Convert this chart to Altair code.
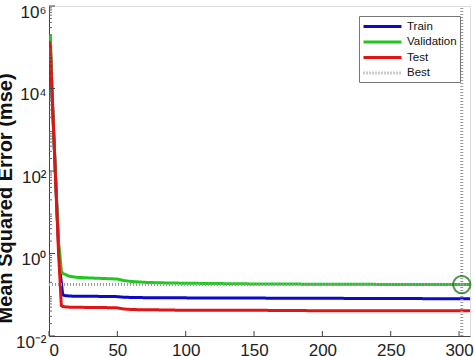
import altair as alt
import pandas as pd

# ---- data ----
epochs = [0, 1, 2, 3, 4, 5, 6, 7, 8, 9, 10, 12, 15, 20, 30, 40, 50, 55, 60, 70, 80, 100, 150, 200, 250, 302, 308]
train = [1.2e5, 9e4, 1.1e4, 1.8e3, 300, 50, 8, 1.6, 0.4, 0.2, 0.1,
         0.095, 0.093, 0.092, 0.092, 0.091, 0.09, 0.087, 0.086, 0.085, 0.085, 0.084, 0.083, 0.082, 0.081, 0.080, 0.080]
valid = [1.5e5, 2e5, 1.3e4, 2e3, 320, 55, 9, 1.8, 0.9, 0.38, 0.33,
         0.31, 0.28, 0.265, 0.255, 0.248, 0.24, 0.22, 0.21, 0.2, 0.195, 0.19, 0.183, 0.18, 0.178, 0.176, 0.176]
test = [1.4e5, 1e5, 1.2e4, 1.9e3, 290, 45, 7, 1.0, 0.25, 0.055, 0.052,
        0.051, 0.05, 0.05, 0.049, 0.049, 0.048, 0.045, 0.044, 0.043, 0.043, 0.042, 0.042, 0.041, 0.041, 0.041, 0.041]

best_epoch = 302
best_perf = 0.176
x_max = 308
y_min, y_max = 0.01, 1e6

series_names = ["Train", "Validation", "Test", "Best"]
series_colors = ["#0a0ac8", "#1ec81e", "#e01414", "#9a9a9a"]
series_dash = [[1, 0], [1, 0], [1, 0], [1, 2]]
series_width = [3, 3, 3, 1]

x_ticks = [0, 50, 100, 150, 200, 250, 300]
y_ticks = [0.01, 1, 100, 1e4, 1e6]
y_tick_labels = ["10⁻²", "10⁰", "10²", "10⁴", "10⁶"]
y_minor = [k * 10.0 ** n for n in range(-2, 6) for k in range(2, 10)]

# ---- tables ----
rows = []
for name, vals in (("Train", train), ("Validation", valid), ("Test", test)):
    for e, v in zip(epochs, vals):
        rows.append({"epoch": e, "mse": v, "series": name, "seg": name})
rows += [
    {"epoch": 0, "mse": best_perf, "series": "Best", "seg": "h"},
    {"epoch": x_max, "mse": best_perf, "series": "Best", "seg": "h"},
    {"epoch": best_epoch, "mse": y_min, "series": "Best", "seg": "v"},
    {"epoch": best_epoch, "mse": y_max, "series": "Best", "seg": "v"},
]
df = pd.DataFrame(rows)
df["order"] = df["series"].map({"Best": 0, "Train": 1, "Validation": 2, "Test": 3})

W, H = 421, 330
FONT = "Liberation Sans"

label_expr = " : ".join(
    f"datum.value < {v * 3} ? '{l}'" for v, l in zip(y_ticks[:-1], y_tick_labels[:-1])
) + f" : '{y_tick_labels[-1]}'"

xscale = alt.Scale(domain=[0, x_max], nice=False, zero=False)
yscale = alt.Scale(type="log", domain=[y_min, y_max], nice=False)

lines = alt.Chart(df).mark_line(clip=True).encode(
    x=alt.X("epoch:Q", scale=xscale,
            axis=alt.Axis(values=x_ticks, ticks=False, grid=False, title=None,
                          labelFontSize=17, labelColor="#222", labelPadding=6,
                          labelFont=FONT, domainColor="#444")),
    y=alt.Y("mse:Q", scale=yscale,
            axis=alt.Axis(values=y_ticks, labelExpr=label_expr, ticks=False, grid=False,
                          title="Mean Squared Error  (mse)", titleFontSize=20,
                          titleFont=FONT, titleFontWeight="bold",
                          titleColor="#111", titleX=-34, titleY=192,
                          titleAngle=270, titleBaseline="bottom", titleAlign="center",
                          labelFontSize=17, labelColor="#222", labelPadding=3,
                          labelOffset=6, labelFont=FONT, domainColor="#444")),
    color=alt.Color("series:N", scale=alt.Scale(domain=series_names, range=series_colors),
                    legend=alt.Legend(title=None, orient="none", legendX=310, legendY=10,
                                      symbolType="M-1,0H5.33", symbolSize=144,
                                      labelOffset=30, labelFontSize=11.5, labelFont=FONT,
                                      labelColor="#111", strokeColor="#777",
                                      fillColor="white", padding=3, rowPadding=1.5)),
    strokeDash=alt.StrokeDash("series:N", scale=alt.Scale(domain=series_names, range=series_dash),
                              legend=alt.Legend(title=None)),
    strokeWidth=alt.StrokeWidth("series:N", scale=alt.Scale(domain=series_names, range=series_width),
                                legend=alt.Legend(title=None)),
    detail="seg:N",
    order=alt.Order("order:Q"),
)

best_pt = alt.Chart(pd.DataFrame({"epoch": [best_epoch], "mse": [best_perf]})).mark_point(
    shape="circle", filled=False, size=300, color="#0a6a0a", strokeWidth=2
).encode(x=alt.X("epoch:Q", scale=xscale), y=alt.Y("mse:Q", scale=yscale))

ytick_major = alt.Chart(pd.DataFrame({"v": y_ticks})).mark_rule(color="#444", strokeWidth=1).encode(
    y=alt.Y("v:Q", scale=yscale), x=alt.value(0), x2=alt.value(6))
ytick_minor = alt.Chart(pd.DataFrame({"v": y_minor})).mark_rule(color="#666", strokeWidth=1).encode(
    y=alt.Y("v:Q", scale=yscale), x=alt.value(0), x2=alt.value(3))
xtick = alt.Chart(pd.DataFrame({"v": x_ticks})).mark_rule(color="#444", strokeWidth=1).encode(
    x=alt.X("v:Q", scale=xscale), y=alt.value(H), y2=alt.value(H - 5))

chart = alt.layer(lines, best_pt, ytick_major, ytick_minor, xtick).properties(
    width=W, height=H,
    autosize=alt.AutoSizeParams(type="none"),
    padding={"left": 49, "top": 6, "right": 4, "bottom": 20},
).configure_view(stroke=None).configure(background="white")

chart.save("out.html", embed_options={"renderer": "svg", "actions": False})
